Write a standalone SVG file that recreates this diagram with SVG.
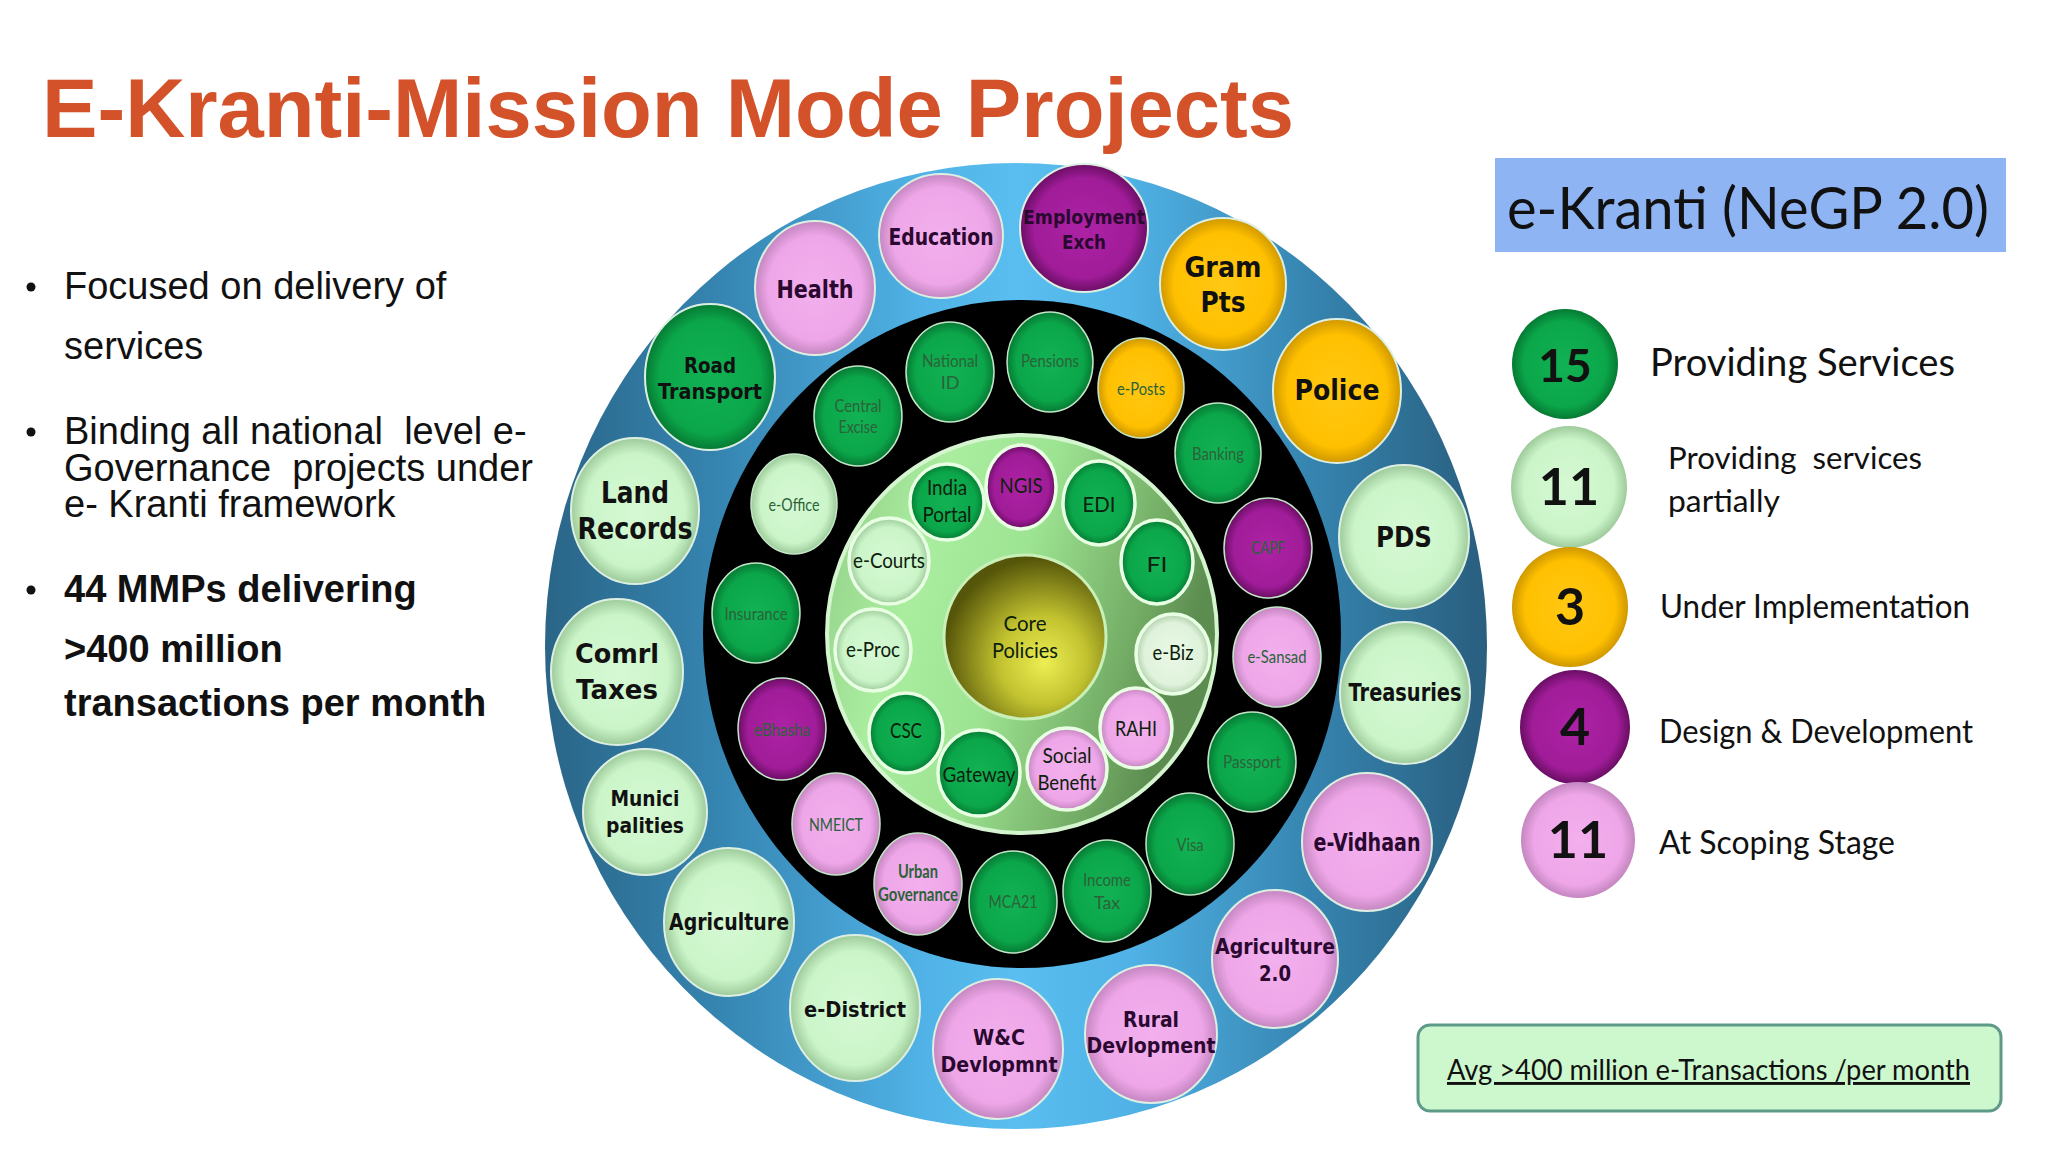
<svg xmlns="http://www.w3.org/2000/svg" width="2048" height="1152" viewBox="0 0 2048 1152">
<style>
.o{font-family:"DejaVu Sans",sans-serif;font-weight:700;text-anchor:middle;fill:#111}
.op{fill:#2a0830}
.s{font-family:Lato,"Noto Sans",sans-serif;text-anchor:middle;font-size:18px;fill:#2b6238}
.i{font-family:Lato,"Noto Sans",sans-serif;text-anchor:middle;font-size:21px;fill:#0d200d}
.bo{stroke:#dcefe2;stroke-width:2}
.bb{stroke:#c4e6c8;stroke-width:1.5}
.bi{stroke:#e8ffe4;stroke-width:3.5}
.bl{font-family:"Liberation Sans",Arial,sans-serif;font-size:38px;fill:#111;white-space:pre}
.lg{font-family:Lato,"Noto Sans",sans-serif;fill:#111;white-space:pre}
.ln{font-family:Lato,"Noto Sans",sans-serif;font-weight:700;text-anchor:middle;fill:#111}
</style>
<defs>
<radialGradient id="pk"><stop offset="0" stop-color="#f3b0ed"/><stop offset="0.78" stop-color="#eea6e8"/><stop offset="1" stop-color="#c486c0"/></radialGradient>
<radialGradient id="dg"><stop offset="0" stop-color="#12b254"/><stop offset="0.78" stop-color="#0ba64a"/><stop offset="1" stop-color="#067a33"/></radialGradient>
<radialGradient id="lg"><stop offset="0" stop-color="#d6f9d4"/><stop offset="0.78" stop-color="#cbf5c9"/><stop offset="1" stop-color="#9ecb9b"/></radialGradient>
<radialGradient id="pu"><stop offset="0" stop-color="#ad22a5"/><stop offset="0.78" stop-color="#a01c98"/><stop offset="1" stop-color="#6a0e64"/></radialGradient>
<radialGradient id="ye"><stop offset="0" stop-color="#ffc814"/><stop offset="0.78" stop-color="#ffc000"/><stop offset="1" stop-color="#cf9800"/></radialGradient>
<radialGradient id="wg"><stop offset="0" stop-color="#eaf8e6"/><stop offset="0.78" stop-color="#dff2db"/><stop offset="1" stop-color="#b2cfae"/></radialGradient>
<radialGradient id="core" cx="0.6" cy="0.62" r="0.6" fx="0.62" fy="0.66"><stop offset="0" stop-color="#ecee52"/><stop offset="0.45" stop-color="#c2c230"/><stop offset="1" stop-color="#56560a"/></radialGradient>
<linearGradient id="ring" x1="0" y1="0" x2="1" y2="0"><stop offset="0" stop-color="#2a6587"/><stop offset="0.18" stop-color="#3584b0"/><stop offset="0.4" stop-color="#50b2e6"/><stop offset="0.5" stop-color="#5abef0"/><stop offset="0.62" stop-color="#50b2e6"/><stop offset="0.82" stop-color="#3583ae"/><stop offset="1" stop-color="#295e7e"/></linearGradient>
<linearGradient id="disc" x1="0" y1="0" x2="1" y2="0.3"><stop offset="0" stop-color="#8fcb85"/><stop offset="0.3" stop-color="#aaed9f"/><stop offset="0.55" stop-color="#9de492"/><stop offset="0.85" stop-color="#74ad66"/><stop offset="1" stop-color="#5c8c50"/></linearGradient>
</defs>
<rect width="2048" height="1152" fill="#fff"/>

<text x="42" y="137" font-family="Liberation Sans, Arial, sans-serif" font-weight="700" font-size="84" fill="#d4522a" textLength="1252" lengthAdjust="spacingAndGlyphs">E-Kranti-Mission Mode Projects</text>

<g id="bullets">
<circle cx="31" cy="287" r="4.5" fill="#111"/>
<text class="bl" x="64" y="299">Focused on delivery of</text>
<text class="bl" x="64" y="359">services</text>
<circle cx="31" cy="432" r="4.5" fill="#111"/>
<text class="bl" x="64" y="444">Binding all national  level e-</text>
<text class="bl" x="64" y="481">Governance  projects under</text>
<text class="bl" x="64" y="517">e- Kranti framework</text>
<circle cx="31" cy="590" r="4.5" fill="#111"/>
<text class="bl" x="64" y="602" font-weight="700">44 MMPs delivering</text>
<text class="bl" x="64" y="662" font-weight="700">&gt;400 million</text>
<text class="bl" x="64" y="716" font-weight="700">transactions per month</text>
</g>

<g id="wheel">
<ellipse cx="1016" cy="646" rx="471" ry="483" fill="url(#ring)"/>
<ellipse cx="1022" cy="634" rx="319" ry="334" fill="#000"/>
<ellipse cx="1022" cy="634" rx="195" ry="199" fill="url(#disc)" stroke="#d5f5d0" stroke-width="4"/>
</g>

<g id="core-policies">
<ellipse cx="1025" cy="637" rx="81" ry="82" fill="url(#core)" stroke="#c8f0b8" stroke-width="3"/>
<text class="i" x="1025" y="631" font-size="23" textLength="43" lengthAdjust="spacingAndGlyphs">Core</text>
<text class="i" x="1025" y="658" font-size="23" textLength="66" lengthAdjust="spacingAndGlyphs">Policies</text>
</g>

<!-- outer ring -->
<g id="health"><ellipse class="bo" cx="815" cy="288" rx="60" ry="67" fill="url(#pk)"/><text class="o op" x="815" y="298" font-size="24" textLength="77" lengthAdjust="spacingAndGlyphs">Health</text></g>
<g id="education"><ellipse class="bo" cx="941" cy="236" rx="62" ry="62" fill="url(#pk)"/><text class="o op" x="941" y="245" font-size="23" textLength="105" lengthAdjust="spacingAndGlyphs">Education</text></g>
<g id="employment-exch"><ellipse class="bo" cx="1084" cy="228" rx="64" ry="64" fill="url(#pu)"/><text class="o op" x="1084" y="224" font-size="20" textLength="122" lengthAdjust="spacingAndGlyphs">Employment</text><text class="o op" x="1084" y="249" font-size="20" textLength="44" lengthAdjust="spacingAndGlyphs">Exch</text></g>
<g id="gram-pts"><ellipse class="bo" cx="1223" cy="284" rx="63" ry="66" fill="url(#ye)"/><text class="o" x="1223" y="277" font-size="29" textLength="77" lengthAdjust="spacingAndGlyphs">Gram</text><text class="o" x="1223" y="312" font-size="29" textLength="45" lengthAdjust="spacingAndGlyphs">Pts</text></g>
<g id="police"><ellipse class="bo" cx="1337" cy="391" rx="64" ry="72" fill="url(#ye)"/><text class="o" x="1337" y="400" font-size="28" textLength="85" lengthAdjust="spacingAndGlyphs">Police</text></g>
<g id="pds"><ellipse class="bo" cx="1404" cy="537" rx="65" ry="72" fill="url(#lg)"/><text class="o" x="1404" y="547" font-size="28" textLength="56" lengthAdjust="spacingAndGlyphs">PDS</text></g>
<g id="treasuries"><ellipse class="bo" cx="1405" cy="693" rx="65" ry="71" fill="url(#lg)"/><text class="o" x="1405" y="701" font-size="24" textLength="113" lengthAdjust="spacingAndGlyphs">Treasuries</text></g>
<g id="e-vidhaan"><ellipse class="bo" cx="1367" cy="842" rx="65" ry="69" fill="url(#pk)"/><text class="o op" x="1367" y="851" font-size="24" textLength="107" lengthAdjust="spacingAndGlyphs">e-Vidhaan</text></g>
<g id="agriculture-2"><ellipse class="bo" cx="1275" cy="959" rx="63" ry="69" fill="url(#pk)"/><text class="o op" x="1275" y="954" font-size="22" textLength="120" lengthAdjust="spacingAndGlyphs">Agriculture</text><text class="o op" x="1275" y="981" font-size="22" textLength="32" lengthAdjust="spacingAndGlyphs">2.0</text></g>
<g id="rural-devlopment"><ellipse class="bo" cx="1151" cy="1034" rx="66" ry="69" fill="url(#pk)"/><text class="o op" x="1151" y="1027" font-size="22" textLength="56" lengthAdjust="spacingAndGlyphs">Rural</text><text class="o op" x="1151" y="1053" font-size="22" textLength="129" lengthAdjust="spacingAndGlyphs">Devlopment</text></g>
<g id="wc-devlopmnt"><ellipse class="bo" cx="998" cy="1049" rx="65" ry="70" fill="url(#pk)"/><text class="o op" x="999" y="1045" font-size="21" textLength="52" lengthAdjust="spacingAndGlyphs">W&amp;C</text><text class="o op" x="999" y="1072" font-size="21" textLength="117" lengthAdjust="spacingAndGlyphs">Devlopmnt</text></g>
<g id="e-district"><ellipse class="bo" cx="855" cy="1008" rx="65" ry="73" fill="url(#lg)"/><text class="o" x="855" y="1017" font-size="22" textLength="102" lengthAdjust="spacingAndGlyphs">e-District</text></g>
<g id="agriculture"><ellipse class="bo" cx="729" cy="922" rx="65" ry="74" fill="url(#lg)"/><text class="o" x="729" y="930" font-size="23" textLength="120" lengthAdjust="spacingAndGlyphs">Agriculture</text></g>
<g id="municipalities"><ellipse class="bo" cx="645" cy="812" rx="62" ry="63" fill="url(#lg)"/><text class="o" x="645" y="806" font-size="22" textLength="69" lengthAdjust="spacingAndGlyphs">Munici</text><text class="o" x="645" y="833" font-size="22" textLength="78" lengthAdjust="spacingAndGlyphs">palities</text></g>
<g id="comrl-taxes"><ellipse class="bo" cx="617" cy="672" rx="66" ry="73" fill="url(#lg)"/><text class="o" x="617" y="663" font-size="27" textLength="84" lengthAdjust="spacingAndGlyphs">Comrl</text><text class="o" x="617" y="699" font-size="27" textLength="82" lengthAdjust="spacingAndGlyphs">Taxes</text></g>
<g id="land-records"><ellipse class="bo" cx="635" cy="511" rx="64" ry="73" fill="url(#lg)"/><text class="o" x="635" y="503" font-size="30" textLength="68" lengthAdjust="spacingAndGlyphs">Land</text><text class="o" x="635" y="539" font-size="30" textLength="115" lengthAdjust="spacingAndGlyphs">Records</text></g>
<g id="road-transport"><ellipse class="bo" cx="710" cy="377" rx="65" ry="73" fill="url(#dg)"/><text class="o" x="710" y="373" font-size="22" textLength="52" lengthAdjust="spacingAndGlyphs">Road</text><text class="o" x="710" y="399" font-size="22" textLength="104" lengthAdjust="spacingAndGlyphs">Transport</text></g>

<!-- black ring -->
<g id="central-excise"><ellipse class="bb" cx="858" cy="416" rx="44" ry="50" fill="url(#dg)"/><text class="s" x="858" y="412" textLength="47" lengthAdjust="spacingAndGlyphs">Central</text><text class="s" x="858" y="433" textLength="39" lengthAdjust="spacingAndGlyphs">Excise</text></g>
<g id="national-id"><ellipse class="bb" cx="950" cy="372" rx="44" ry="50" fill="url(#dg)"/><text class="s" x="950" y="367" textLength="56" lengthAdjust="spacingAndGlyphs">National</text><text class="s" x="950" y="389">ID</text></g>
<g id="pensions"><ellipse class="bb" cx="1050" cy="362" rx="43" ry="50" fill="url(#dg)"/><text class="s" x="1050" y="367" textLength="58" lengthAdjust="spacingAndGlyphs">Pensions</text></g>
<g id="e-posts"><ellipse class="bb" cx="1141" cy="388" rx="43" ry="50" fill="url(#ye)"/><text class="s" x="1141" y="395" fill="#4a3a10" textLength="48" lengthAdjust="spacingAndGlyphs">e-Posts</text></g>
<g id="banking"><ellipse class="bb" cx="1218" cy="453" rx="43" ry="50" fill="url(#dg)"/><text class="s" x="1218" y="460" textLength="52" lengthAdjust="spacingAndGlyphs">Banking</text></g>
<g id="capf"><ellipse class="bb" cx="1268" cy="548" rx="44" ry="50" fill="url(#pu)"/><text class="s" x="1268" y="554" fill="#5e1566" textLength="34" lengthAdjust="spacingAndGlyphs">CAPF</text></g>
<g id="e-sansad"><ellipse class="bb" cx="1277" cy="657" rx="44" ry="50" fill="url(#pk)"/><text class="s" x="1277" y="663" fill="#4a1a50" textLength="59" lengthAdjust="spacingAndGlyphs">e-Sansad</text></g>
<g id="passport"><ellipse class="bb" cx="1252" cy="762" rx="44" ry="50" fill="url(#dg)"/><text class="s" x="1252" y="768" textLength="58" lengthAdjust="spacingAndGlyphs">Passport</text></g>
<g id="visa"><ellipse class="bb" cx="1190" cy="844" rx="44" ry="51" fill="url(#dg)"/><text class="s" x="1190" y="851" textLength="27" lengthAdjust="spacingAndGlyphs">Visa</text></g>
<g id="income-tax"><ellipse class="bb" cx="1107" cy="891" rx="44" ry="51" fill="url(#dg)"/><text class="s" x="1107" y="886" textLength="48" lengthAdjust="spacingAndGlyphs">Income</text><text class="s" x="1107" y="909" textLength="26" lengthAdjust="spacingAndGlyphs">Tax</text></g>
<g id="mca21"><ellipse class="bb" cx="1013" cy="902" rx="44" ry="51" fill="url(#dg)"/><text class="s" x="1013" y="908" textLength="49" lengthAdjust="spacingAndGlyphs">MCA21</text></g>
<g id="urban-governance"><ellipse class="bb" cx="918" cy="884" rx="44" ry="51" fill="url(#pk)"/><text class="s" x="918" y="878" fill="#1e0a20" font-weight="700" textLength="40" lengthAdjust="spacingAndGlyphs">Urban</text><text class="s" x="918" y="901" fill="#1e0a20" font-weight="700" textLength="80" lengthAdjust="spacingAndGlyphs">Governance</text></g>
<g id="nmeict"><ellipse class="bb" cx="836" cy="824" rx="44" ry="51" fill="url(#pk)"/><text class="s" x="836" y="831" fill="#3a2050" textLength="54" lengthAdjust="spacingAndGlyphs">NMEICT</text></g>
<g id="ebhasha"><ellipse class="bb" cx="782" cy="729" rx="44" ry="51" fill="url(#pu)"/><text class="s" x="782" y="736" fill="#6a1872" textLength="56" lengthAdjust="spacingAndGlyphs">eBhasha</text></g>
<g id="insurance"><ellipse class="bb" cx="756" cy="613" rx="44" ry="50" fill="url(#dg)"/><text class="s" x="756" y="620" textLength="63" lengthAdjust="spacingAndGlyphs">Insurance</text></g>
<g id="e-office"><ellipse class="bb" cx="794" cy="504" rx="43" ry="50" fill="url(#lg)"/><text class="s" x="794" y="511" fill="#2a3a2a" textLength="51" lengthAdjust="spacingAndGlyphs">e-Office</text></g>

<!-- inner green disc -->
<g id="india-portal"><ellipse class="bi" cx="947" cy="502" rx="37" ry="38" fill="url(#dg)"/><text class="i" x="947" y="495" font-size="20" textLength="40" lengthAdjust="spacingAndGlyphs">India</text><text class="i" x="947" y="522" font-size="20" textLength="49" lengthAdjust="spacingAndGlyphs">Portal</text></g>
<g id="ngis"><ellipse class="bi" cx="1021" cy="487" rx="35" ry="42" fill="url(#pu)" stroke="#d0a8d0"/><text class="i" x="1021" y="493" font-size="20" fill="#f4e4f4" textLength="43" lengthAdjust="spacingAndGlyphs">NGIS</text></g>
<g id="edi"><ellipse class="bi" cx="1099" cy="503" rx="36" ry="42" fill="url(#dg)"/><text class="i" x="1099" y="512" font-size="26" textLength="33" lengthAdjust="spacingAndGlyphs">EDI</text></g>
<g id="fi"><ellipse class="bi" cx="1157" cy="562" rx="36" ry="42" fill="url(#dg)"/><text class="i" x="1157" y="572" font-size="30" textLength="21" lengthAdjust="spacingAndGlyphs">FI</text></g>
<g id="e-biz"><ellipse class="bi" cx="1173" cy="654" rx="37" ry="40" fill="url(#wg)"/><text class="i" x="1173" y="660" textLength="41" lengthAdjust="spacingAndGlyphs">e-Biz</text></g>
<g id="rahi"><ellipse class="bi" cx="1136" cy="728" rx="36" ry="40" fill="url(#pk)"/><text class="i" x="1136" y="736" font-size="22" fill="#2a0a2a" textLength="42" lengthAdjust="spacingAndGlyphs">RAHI</text></g>
<g id="social-benefit"><ellipse class="bi" cx="1067" cy="769" rx="40" ry="41" fill="url(#pk)"/><text class="i" x="1067" y="763" fill="#2a0a2a" textLength="49" lengthAdjust="spacingAndGlyphs">Social</text><text class="i" x="1067" y="790" fill="#2a0a2a" textLength="59" lengthAdjust="spacingAndGlyphs">Benefit</text></g>
<g id="gateway"><ellipse class="bi" cx="979" cy="773" rx="41" ry="43" fill="url(#dg)"/><text class="i" x="979" y="782" textLength="73" lengthAdjust="spacingAndGlyphs">Gateway</text></g>
<g id="csc"><ellipse class="bi" cx="906" cy="733" rx="37" ry="40" fill="url(#dg)"/><text class="i" x="906" y="738" font-size="22" textLength="32" lengthAdjust="spacingAndGlyphs">CSC</text></g>
<g id="e-proc"><ellipse class="bi" cx="873" cy="650" rx="38" ry="41" fill="url(#lg)"/><text class="i" x="873" y="657" textLength="54" lengthAdjust="spacingAndGlyphs">e-Proc</text></g>
<g id="e-courts"><ellipse class="bi" cx="889" cy="561" rx="40" ry="43" fill="url(#lg)"/><text class="i" x="889" y="568" textLength="72" lengthAdjust="spacingAndGlyphs">e-Courts</text></g>

<!-- right panel -->
<g id="header">
<rect x="1495" y="158" width="511" height="94" fill="#8eb4f3"/>
<text class="lg" x="1507" y="229" font-size="59" textLength="482" lengthAdjust="spacingAndGlyphs">e-Kranti (NeGP 2.0)</text>
</g>
<g id="legend-15"><ellipse cx="1565" cy="364" rx="53" ry="55" fill="url(#dg)"/><text class="ln" x="1565" y="382" font-size="46">15</text><text class="lg" x="1650" y="376" font-size="39" textLength="305" lengthAdjust="spacingAndGlyphs">Providing Services</text></g>
<g id="legend-11a"><ellipse cx="1569" cy="487" rx="58" ry="61" fill="url(#lg)"/><text class="ln" x="1569" y="505" font-size="52">11</text><text class="lg" x="1668" y="469" font-size="31" textLength="254" lengthAdjust="spacingAndGlyphs">Providing  services</text><text class="lg" x="1668" y="512" font-size="31" textLength="112" lengthAdjust="spacingAndGlyphs">partially</text></g>
<g id="legend-3"><ellipse cx="1570" cy="607" rx="58" ry="60" fill="url(#ye)"/><text class="ln" x="1570" y="625" font-size="52">3</text><text class="lg" x="1660" y="618" font-size="32" textLength="310" lengthAdjust="spacingAndGlyphs">Under Implementation</text></g>
<g id="legend-4"><ellipse cx="1575" cy="727" rx="55" ry="57" fill="url(#pu)"/><text class="ln" x="1575" y="745" font-size="52">4</text><text class="lg" x="1659" y="743" font-size="32" textLength="314" lengthAdjust="spacingAndGlyphs">Design &amp; Development</text></g>
<g id="legend-11b"><ellipse cx="1578" cy="840" rx="57" ry="58" fill="url(#pk)"/><text class="ln" x="1578" y="858" font-size="52">11</text><text class="lg" x="1659" y="854" font-size="32" textLength="236" lengthAdjust="spacingAndGlyphs">At Scoping Stage</text></g>
<g id="avg-box">
<rect x="1418" y="1025" width="583" height="86" rx="12" fill="#cdf7cd" stroke="#5e9a8a" stroke-width="3"/>
<text class="lg" x="1447" y="1080" font-size="29" textLength="523" lengthAdjust="spacingAndGlyphs" text-decoration="underline">Avg &gt;400 million e-Transactions /per month</text>
</g>
</svg>
